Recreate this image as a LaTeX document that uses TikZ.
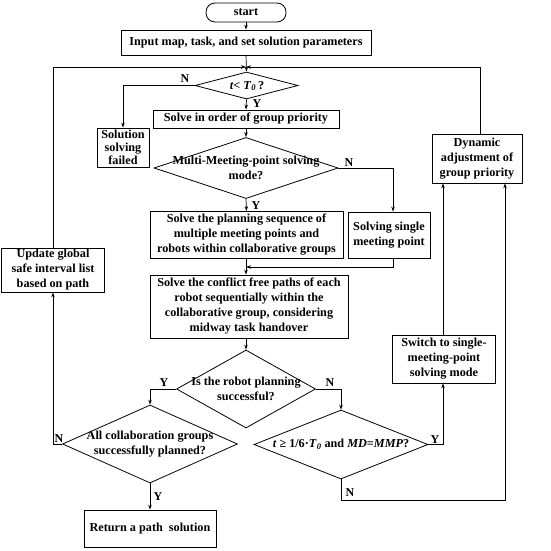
\documentclass[tikz,border=0pt]{standalone}
\usepackage{fontspec}
\setmainfont{Liberation Serif}
\usetikzlibrary{shapes.geometric,arrows.meta}
\begin{document}
\begin{tikzpicture}[x=1pt,y=-1pt,
  box/.style={draw,line width=0.8pt,inner sep=0pt,align=center,font=\bfseries\fontsize{12.2}{15}\selectfont},
  dia/.style={draw,diamond,line width=0.8pt,inner sep=0pt},
  txt/.style={align=center,inner sep=0pt,font=\bfseries\fontsize{12.2}{15}\selectfont},
  lab/.style={inner sep=0pt,font=\bfseries\fontsize{12}{13}\selectfont},
  arr/.style={line width=0.7pt,-{Stealth[length=5pt,width=3.5pt]}},
  ln/.style={line width=0.7pt}]
\useasboundingbox (0,0) rectangle (550,551);
% nodes
\node[box,rounded corners=9pt,minimum width=80pt,minimum height=19pt] (start) at (246,12.5) {start};
\node[box,minimum width=250pt,minimum height=25pt] (input) at (246,42.5) {Input map, task, and set solution parameters};
\node[dia,minimum width=103pt,minimum height=27pt] (d1) at (246.5,85.5) {};
\node[txt] at (247,86) {\textit{t}< \textit{T}\textsubscript{\textit{0}}\,?};
\node[box,minimum width=52pt,minimum height=39pt] (fail) at (123,147.5) {Solution\\[-2pt]solving\\[-2pt]failed};
\node[box,minimum width=186pt,minimum height=18pt] (solve1) at (246,119) {Solve in order of group priority};
\node[dia,minimum width=184pt,minimum height=61pt] (d2) at (246,168) {};
\node[txt] at (246,168) {Multi-Meeting-point solving\\mode?};
\node[box,minimum width=193pt,minimum height=47pt] (plan) at (246.5,235) {Solve the planning sequence of\\multiple meeting points and\\robots within collaborative groups};
\node[box,minimum width=82pt,minimum height=46pt] (single) at (389,235) {Solving single\\meeting point};
\node[box,minimum width=198pt,minimum height=63pt] (conflict) at (249,306.5) {Solve the conflict free paths of each\\robot sequentially within the\\collaborative group, considering\\midway task handover};
\node[dia,minimum width=139pt,minimum height=78pt] (d3) at (246,389) {};
\node[txt] at (246,389) {Is the robot planning\\successful?};
\node[dia,minimum width=175pt,minimum height=78pt] (d4) at (150,444) {};
\node[txt] at (150,444) {All collaboration groups\\successfully planned?};
\node[box,minimum width=132pt,minimum height=37pt] (ret) at (150,528.5) {Return a path\ \ solution};
\node[dia,minimum width=174pt,minimum height=69pt] (d5) at (341,444.5) {};
\node[txt] at (341,444.5) {\textit{t} ≥ 1/6·\textit{T}\textsubscript{\textit{0}} and \textit{MD}=\textit{MMP}?};
\node[box,minimum width=103pt,minimum height=48pt] (switch) at (444,359) {Switch to single-\\meeting-point\\solving mode};
\node[box,minimum width=90pt,minimum height=49pt] (dyn) at (477,158.5) {Dynamic\\adjustment of\\group priority};
\node[box,minimum width=103pt,minimum height=44pt] (update) at (53,270) {Update global\\safe interval list\\based on path};
\coordinate (J) at (246,67);
\coordinate (M) at (246,267);
% connectors
\draw[arr] (start) -- (input);
\draw[arr] (input.south) -- (d1.north);
\draw[arr] (update.north) |- (J);
\draw[arr] ([xshift=3pt]dyn.north) |- (J);
\draw[arr] (d1.west) -| (fail.north);
\draw[arr] (d1.south) -- (solve1.north);
\draw[arr] (solve1.south) -- (d2.north);
\draw[arr] (d2.east) -| ([xshift=4pt]single.north);
\draw[arr] (d2.south) -- (plan.north);
\draw[arr] ([xshift=4pt]single.south) |- (M);
\draw[arr] (plan.south -| M) -- (M |- conflict.north);
\draw[arr] (d3.north |- conflict.south) -- (d3.north);
\draw[arr] (d3.west) -| (d4.north);
\draw[arr] (d3.east) -| (d5.north);
\draw[arr] (d4.west) -| (update.south);
\draw[arr] (d4.south) -- (ret.north);
\draw[arr] (d5.east) -| ([xshift=-1pt]switch.south);
\draw[arr] ([xshift=-1pt]switch.north) -- ([xshift=-1pt]switch.north |- dyn.south);
\draw[arr] (d5.south) -- ++(0,21) -| ([xshift=28pt]dyn.south);
% labels
\node[lab] at (185,79) {N};
\node[lab] at (257,104) {Y};
\node[lab] at (349,163) {N};
\node[lab] at (256,206) {Y};
\node[lab] at (164,383) {Y};
\node[lab] at (330,383) {N};
\node[lab] at (59,439) {N};
\node[lab] at (158,497) {Y};
\node[lab] at (435,440) {Y};
\node[lab] at (350,493) {N};
\end{tikzpicture}
\end{document}
